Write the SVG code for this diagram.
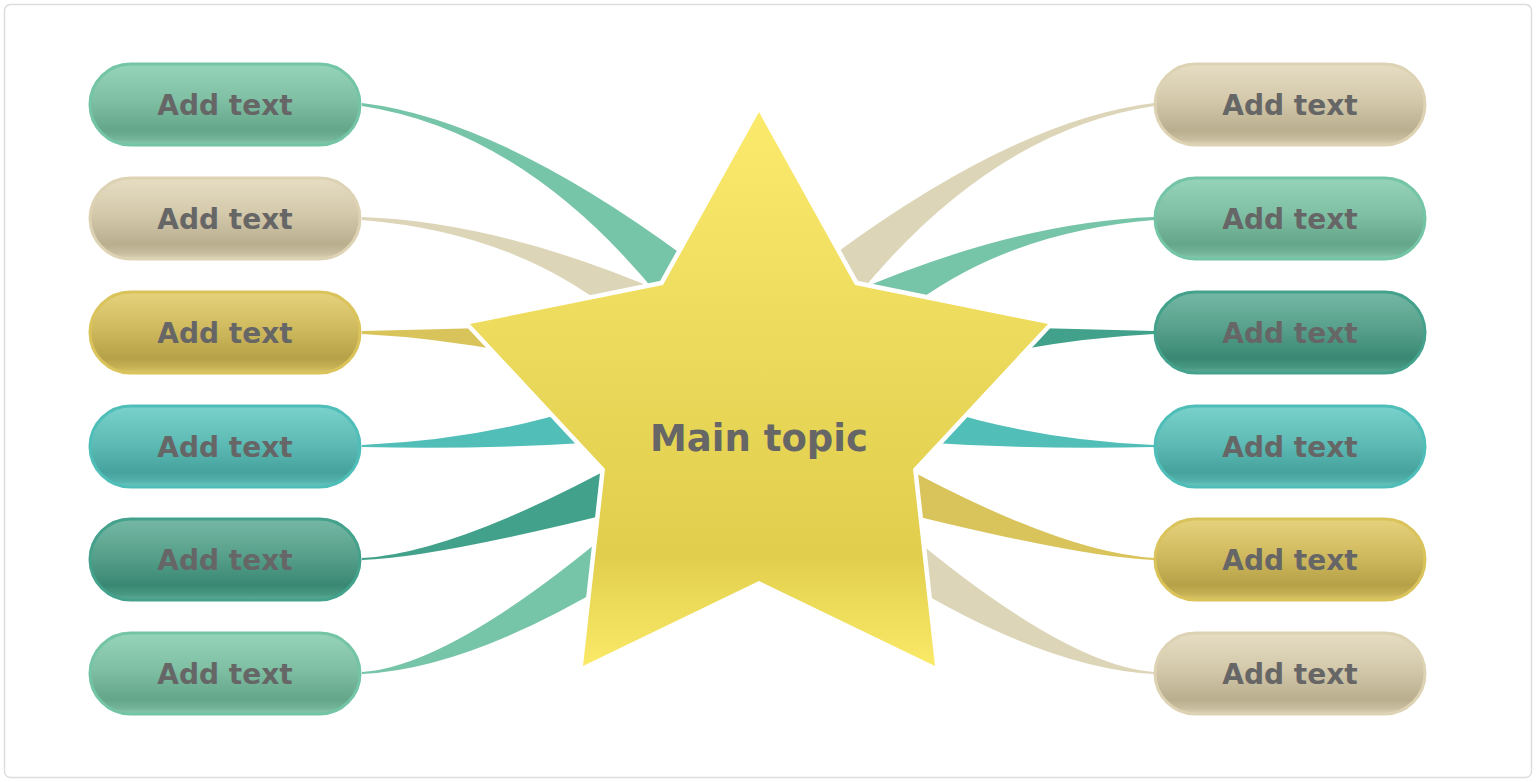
<svg xmlns="http://www.w3.org/2000/svg" xmlns:xlink="http://www.w3.org/1999/xlink" width="1536" height="782" viewBox="0 0 1536 782">
<style>
.nt{font-family:"DejaVu Sans","Liberation Sans",sans-serif;font-weight:bold;font-size:28px;fill:#666666;text-anchor:middle}
.mt{font-family:"DejaVu Sans","Liberation Sans",sans-serif;font-weight:bold;font-size:37px;fill:#666666;text-anchor:middle}
.node{stroke-width:3}
.green{fill:#77c5a8}
.beige{fill:#ddd5b7}
.gold{fill:#d9c45c}
.cyan{fill:#51beb8}
.teal{fill:#41a18b}
</style>
<defs>
<linearGradient id="gGreen" x1="0" y1="0" x2="0" y2="1">
<stop offset="0" stop-color="#95d4b9"/><stop offset="0.45" stop-color="#7fbfa4"/><stop offset="0.82" stop-color="#64a68a"/><stop offset="0.93" stop-color="#74b599"/><stop offset="1" stop-color="#8ccdb1"/>
</linearGradient>
<linearGradient id="gBeige" x1="0" y1="0" x2="0" y2="1">
<stop offset="0" stop-color="#e6ddc3"/><stop offset="0.45" stop-color="#d3c8aa"/><stop offset="0.82" stop-color="#b9ae8e"/><stop offset="0.93" stop-color="#c8bd9e"/><stop offset="1" stop-color="#ddd3b6"/>
</linearGradient>
<linearGradient id="gGold" x1="0" y1="0" x2="0" y2="1">
<stop offset="0" stop-color="#e5d27c"/><stop offset="0.45" stop-color="#d0ba5f"/><stop offset="0.82" stop-color="#b7a148"/><stop offset="0.93" stop-color="#c7b155"/><stop offset="1" stop-color="#dcc86c"/>
</linearGradient>
<linearGradient id="gCyan" x1="0" y1="0" x2="0" y2="1">
<stop offset="0" stop-color="#79d2cb"/><stop offset="0.45" stop-color="#5fbbb5"/><stop offset="0.82" stop-color="#46a29d"/><stop offset="0.93" stop-color="#53b2ac"/><stop offset="1" stop-color="#6fcac3"/>
</linearGradient>
<linearGradient id="gTeal" x1="0" y1="0" x2="0" y2="1">
<stop offset="0" stop-color="#74b8a4"/><stop offset="0.45" stop-color="#58a08b"/><stop offset="0.82" stop-color="#398873"/><stop offset="0.93" stop-color="#479881"/><stop offset="1" stop-color="#62ae98"/>
</linearGradient>
<linearGradient id="gStar" x1="0" y1="112" x2="0" y2="666" gradientUnits="userSpaceOnUse">
<stop offset="0" stop-color="#fbea6b"/><stop offset="0.5" stop-color="#e9d759"/><stop offset="0.8" stop-color="#e1ce4d"/><stop offset="1" stop-color="#faea68"/>
</linearGradient>
<path id="c1" d="M362,103 Q502,120 692,262 L662,300 Q526,131 362,106 Z"/>
<path id="c2" d="M362,217 Q500,222 665,293 L610,310 Q510,232 362,220 Z"/>
<path id="c3" d="M362,331 Q440,329 520,327 L520,354 Q440,338 362,334 Z"/>
<path id="c4" d="M362,445 Q480,440 580,408 L600,442 Q480,450 362,447 Z"/>
<path id="c5" d="M362,558 Q455,553 625,460 L625,510 Q433,558 362,560 Z"/>
<path id="c6" d="M362,672 Q450,666 612,530 L612,582 Q467,669 362,674 Z"/>
</defs>
<rect x="4.5" y="4.5" width="1527" height="773" rx="6" fill="#ffffff" stroke="#dddddd" stroke-width="1.5"/>
<g id="connectors">
<use xlink:href="#c2" class="beige"/>
<use xlink:href="#c1" class="green"/>
<use xlink:href="#c3" class="gold"/>
<use xlink:href="#c4" class="cyan"/>
<use xlink:href="#c5" class="teal"/>
<use xlink:href="#c6" class="green"/>
<use xlink:href="#c2" class="green" transform="matrix(-1 0 0 1 1516 0)"/>
<use xlink:href="#c1" class="beige" transform="matrix(-1 0 0 1 1516 0)"/>
<use xlink:href="#c3" class="teal" transform="matrix(-1 0 0 1 1516 0)"/>
<use xlink:href="#c4" class="cyan" transform="matrix(-1 0 0 1 1516 0)"/>
<use xlink:href="#c5" class="gold" transform="matrix(-1 0 0 1 1516 0)"/>
<use xlink:href="#c6" class="beige" transform="matrix(-1 0 0 1 1516 0)"/>
</g>
<g id="main">
<polygon points="759,112 855,285 1048,324 913,469 935,666 759,581 583,666 605,469 470,324 663,285" fill="url(#gStar)" stroke="#ffffff" stroke-width="9" stroke-linejoin="round" paint-order="stroke"/>
<text class="mt" x="759" y="451">Main topic</text>
</g>
<g id="n1"><rect class="node" x="90" y="64" width="270" height="81" rx="40.5" fill="url(#gGreen)" stroke="#74c4a6"/><text class="nt" x="225" y="115">Add text</text></g>
<g id="n2"><rect class="node" x="90" y="178" width="270" height="81" rx="40.5" fill="url(#gBeige)" stroke="#ddd3b4"/><text class="nt" x="225" y="229">Add text</text></g>
<g id="n3"><rect class="node" x="90" y="292" width="270" height="81" rx="40.5" fill="url(#gGold)" stroke="#d9c35a"/><text class="nt" x="225" y="343">Add text</text></g>
<g id="n4"><rect class="node" x="90" y="406" width="270" height="81" rx="40.5" fill="url(#gCyan)" stroke="#50beb8"/><text class="nt" x="225" y="457">Add text</text></g>
<g id="n5"><rect class="node" x="90" y="519" width="270" height="81" rx="40.5" fill="url(#gTeal)" stroke="#44a28c"/><text class="nt" x="225" y="570">Add text</text></g>
<g id="n6"><rect class="node" x="90" y="633" width="270" height="81" rx="40.5" fill="url(#gGreen)" stroke="#74c4a6"/><text class="nt" x="225" y="684">Add text</text></g>
<g id="n7"><rect class="node" x="1155" y="64" width="270" height="81" rx="40.5" fill="url(#gBeige)" stroke="#ddd3b4"/><text class="nt" x="1290" y="115">Add text</text></g>
<g id="n8"><rect class="node" x="1155" y="178" width="270" height="81" rx="40.5" fill="url(#gGreen)" stroke="#74c4a6"/><text class="nt" x="1290" y="229">Add text</text></g>
<g id="n9"><rect class="node" x="1155" y="292" width="270" height="81" rx="40.5" fill="url(#gTeal)" stroke="#44a28c"/><text class="nt" x="1290" y="343">Add text</text></g>
<g id="n10"><rect class="node" x="1155" y="406" width="270" height="81" rx="40.5" fill="url(#gCyan)" stroke="#50beb8"/><text class="nt" x="1290" y="457">Add text</text></g>
<g id="n11"><rect class="node" x="1155" y="519" width="270" height="81" rx="40.5" fill="url(#gGold)" stroke="#d9c35a"/><text class="nt" x="1290" y="570">Add text</text></g>
<g id="n12"><rect class="node" x="1155" y="633" width="270" height="81" rx="40.5" fill="url(#gBeige)" stroke="#ddd3b4"/><text class="nt" x="1290" y="684">Add text</text></g>
</svg>
